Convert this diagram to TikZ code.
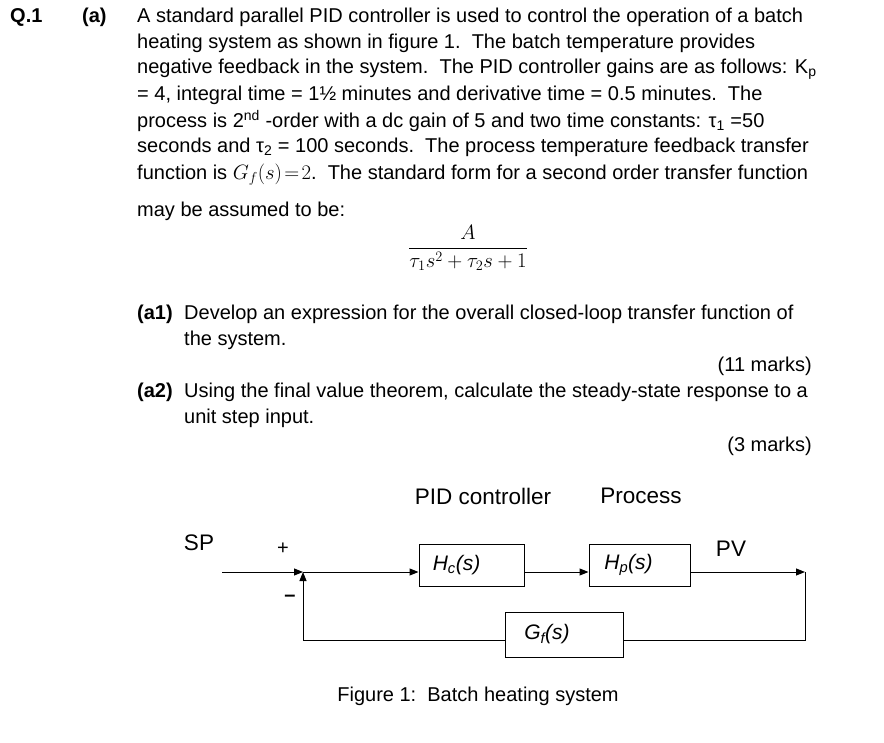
\documentclass[tikz,border=0pt]{standalone}
\usepackage{fontspec}
\setmainfont{Liberation Sans}
\usetikzlibrary{arrows.meta}
\begin{document}
\begin{tikzpicture}[x=1pt,y=1pt,
  txt/.style={anchor=west,inner sep=0pt,font=\fontsize{20}{22}\selectfont},
  rtxt/.style={anchor=east,inner sep=0pt,font=\fontsize{20}{22}\selectfont},
  ctxt/.style={anchor=center,inner sep=0pt,font=\fontsize{20}{22}\selectfont},
  dtxt/.style={anchor=center,inner sep=0pt,font=\fontsize{22.5}{24}\selectfont},
  blk/.style={draw,line width=1pt,minimum height=42pt,inner sep=0pt,font=\fontsize{21}{22}\selectfont\itshape},
  sig/.style={line width=1pt,-{Triangle[length=9pt,width=7pt]}}]
\useasboundingbox (0,0) rectangle (884,-743);
\node[txt,font=\fontsize{20}{22}\selectfont\bfseries] (q) at (10,-17) {Q.1};
\node[txt,font=\fontsize{20}{22}\selectfont\bfseries] (qa) at (82,-17) {(a)};
\node[txt] (l1) at (137,-17) {A standard parallel PID controller is used to control the operation of a batch};
\node[txt] (l2) at (137,-43) {heating system as shown in figure 1.\ \ The batch temperature provides};
\node[txt] (l3) at (137,-69) {negative feedback in the system.\ \ The PID controller gains are as follows: K\textsubscript{p}};
\node[txt] (l4) at (137,-95) {= 4, integral time = 1½ minutes and derivative time = 0.5 minutes.\ \ The};
\node[txt] (l5) at (137,-121) {process is 2\textsuperscript{nd} -order with a dc gain of 5 and two time constants: τ\textsubscript{1} =50};
\node[txt] (l6) at (137,-147) {seconds and τ\textsubscript{2} = 100 seconds.\ \ The process temperature feedback transfer};
\node[txt] (l7) at (137,-175) {function is $G_f(s)\!=\!2$.\ \ The standard form for a second order transfer function};
\node[txt] (l8) at (137,-211) {may be assumed to be:};
\node[ctxt,font=\fontsize{21}{24}\selectfont] (frac) at (468,-248) {$\displaystyle\frac{A}{\tau_1 s^2+\tau_2 s+1}$};
\node[txt,font=\fontsize{20}{22}\selectfont\bfseries] (a1) at (137,-314) {(a1)};
\node[txt] (a1t) at (184,-314) {Develop an expression for the overall closed-loop transfer function of};
\node[txt] (a1u) at (184,-340) {the system.};
\node[rtxt] (m1) at (812,-366) {(11 marks)};
\node[txt,font=\fontsize{20}{22}\selectfont\bfseries] (a2) at (137,-392) {(a2)};
\node[txt] (a2t) at (184,-392) {Using the final value theorem, calculate the steady-state response to a};
\node[txt] (a2u) at (184,-418) {unit step input.};
\node[rtxt] (m2) at (812,-446) {(3 marks)};
\node[dtxt] (pidl) at (483,-496) {PID controller};
\node[dtxt] (procl) at (641,-496) {Process};
\node[dtxt] (sp) at (199,-543) {SP};
\node[ctxt] (plus) at (283,-549) {+};
\node[ctxt] (minus) at (290,-598) {\textbf{--}};
\node[dtxt] (pv) at (731,-549) {PV};
\node[blk,minimum width=105pt] (hc) at (471.5,-565) {\hspace*{-30pt}H\textsubscript{c}(s)};
\node[blk,minimum width=101pt] (hp) at (639.5,-565) {\hspace*{-22pt}H\textsubscript{p}(s)};
\node[blk,minimum width=118pt,minimum height=45pt] (gf) at (564,-634.5) {\hspace*{-34pt}G\textsubscript{f}(s)};
\coordinate (in) at (222,-572);
\coordinate (sum) at (303,-572);
\coordinate (out) at (805,-572);
\coordinate (br) at (805,-640);
\coordinate (bl) at (303,-640);
\draw[sig] (in) -- (sum);
\draw[sig] (sum) -- (hc.west |- sum);
\draw[sig] (hc.east |- sum) -- (hp.west |- sum);
\draw[sig] (hp.east |- sum) -- (out);
\draw[line width=1pt] (out) -- (br) -- (gf.east |- br);
\draw[line width=1pt] (gf.west |- bl) -- (bl);
\draw[sig] (bl) -- (sum);
\node[ctxt] (cap) at (478,-696) {Figure 1:\ \ Batch heating system};
\end{tikzpicture}
\end{document}
